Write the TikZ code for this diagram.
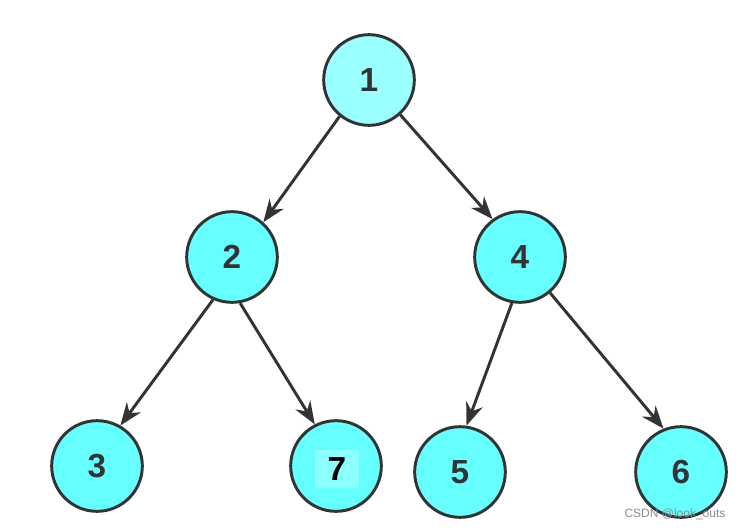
\documentclass[tikz,border=0pt]{standalone}
\usepackage{fontspec}
\setmainfont{Liberation Sans}
\usetikzlibrary{arrows.meta}
\definecolor{cA}{RGB}{102,255,255}
\definecolor{cB}{RGB}{153,255,255}
\definecolor{cT}{RGB}{140,255,255}
\definecolor{dk}{RGB}{51,51,51}
\begin{document}
\begin{tikzpicture}[x=0.75pt,y=-0.75pt,
  nd/.style={circle,draw=dk,line width=2.2pt,fill=cA,minimum size=68pt,inner sep=0pt,font=\fontsize{25}{25}\bfseries\selectfont,text=dk},
  ar/.style={draw=dk,line width=2.2pt,-{Stealth[length=17pt,width=13pt]}}]
\useasboundingbox[fill=white] (0,0) rectangle (748,531);
\node[nd,fill=cB] (n1) at (369,80) {1};
\node[nd] (n2) at (232,257) {2};
\node[nd] (n4) at (520,257) {4};
\node[nd] (n3) at (97,466) {3};
\node[nd] (n7) at (336,466) {};
\node[fill=cT,minimum width=33pt,minimum height=28pt,inner sep=0pt,font=\fontsize{25}{25}\bfseries\selectfont,text=black] (t7) at (337,469) {7};
\node[nd] (n5) at (460,472) {5};
\node[nd] (n6) at (681,472) {6};
\draw[ar] (n1.-129) -- (n2.48);
\draw[ar] (n1.-48) -- (n4.126);
\draw[ar] (n2.-114) -- (n3.60);
\draw[ar] (n2.-80) -- (n7.117);
\draw[ar] (n4.-100) -- (n5.82);
\draw[ar] (n4.-50) -- (n6.112);
\node[text=black!45,font=\fontsize{9}{9}\selectfont] (wm) at (675,514) {CSDN @look\_outs};
\end{tikzpicture}
\end{document}
